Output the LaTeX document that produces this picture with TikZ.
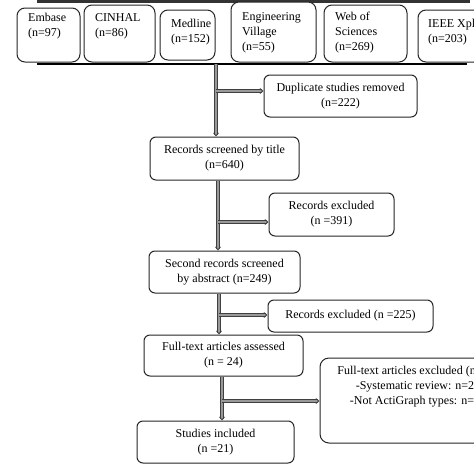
\documentclass[tikz,border=0pt]{standalone}
\usepackage{fontspec}
\setmainfont{Liberation Serif}
\usetikzlibrary{arrows.meta}
\newcommand\diafont{\fontsize{12}{15}\selectfont}
\begin{document}
\begin{tikzpicture}[x=1pt,y=-1pt,
  box/.style={draw=black!85, line width=1pt, rounded corners=6pt, fill=white, inner sep=0pt, align=center, font=\diafont},
  srcbox/.style={draw=black!85, line width=1pt, rounded corners=8pt, fill=white, inner sep=0pt},
  srctext/.style={anchor=north west, inner sep=0pt, align=left, font=\diafont},
  conn/.style={draw=black!75, line width=0.8pt, double=black!40, double distance=1.6pt},
  tip/.style={-{Straight Barb[length=3pt,width=5pt]}}]
\useasboundingbox (0,0) rectangle (474,474);
\clip (0,0) rectangle (474,474);
\fill[white] (0,0) rectangle (474,474);
% top bar
\fill[black!80] (37,-3) rectangle (470,3);
% source boxes
\node[srcbox, minimum width=63pt, minimum height=54pt] (s1) at (48.5,35) {};
\node[srcbox, minimum width=71pt, minimum height=57pt] (s2) at (119.5,33.5) {};
\node[srcbox, minimum width=55pt, minimum height=50pt] (s3) at (187.5,35) {};
\node[srcbox, minimum width=85pt, minimum height=60pt] (s4) at (273.5,32) {};
\node[srcbox, minimum width=83pt, minimum height=57pt] (s5) at (365.5,33.5) {};
\node[srcbox, minimum width=72pt, minimum height=52pt] (s6) at (454,36) {};
\node[srctext] (s1t) at (28,13) {Embase\\(n=97)};
\node[srctext] (s2t) at (95,13) {CINHAL\\(n=86)};
\node[srctext] (s3t) at (171,19) {Medline\\(n=152)};
\node[srctext] (s4t) at (242,12) {Engineering\\Village\\(n=55)};
\node[srctext] (s5t) at (335,12) {Web of\\Sciences\\(n=269)};
\node[srctext] (s6t) at (428,19) {IEEE Xplore\\(n=203)};
% horizontal line
\coordinate (hl) at (37,64);
\coordinate (hr) at (467,64);
\draw[black, line width=1.6pt] (hl) -- (hr);
% main boxes
\node[box, minimum width=153pt, minimum height=42pt] (dup) at (340.5,96) {Duplicate studies removed\\(n=222)};
\node[box, minimum width=149pt, minimum height=43pt] (r1) at (224.5,158.5) {Records screened by title\\(n=640)};
\node[box, minimum width=125pt, minimum height=43pt] (ex1) at (331.5,214.5) {Records excluded\\(n =391)};
\node[box, minimum width=151pt, minimum height=42pt] (r2) at (224.5,272) {Second records screened\\by abstract (n=249)};
\node[box, minimum width=165pt, minimum height=32pt] (ex2) at (350.5,316) {Records excluded (n =225)};
\node[box, minimum width=159pt, minimum height=41pt] (ft) at (223.5,355.5) {Full-text articles assessed\\(n = 24)};
\node[box, rounded corners=9pt, minimum width=190pt, minimum height=85pt] (ex3) at (415,400.5) {};
\node[anchor=north, inner sep=0pt, align=center, font=\diafont] (ex3t) at (415,366) {Full-text articles excluded (n=3)\\-Systematic review: n=2\\-Not ActiGraph types: n=1};
\node[box, minimum width=157pt, minimum height=42pt] (inc) at (215.5,442) {Studies included\\(n =21)};
% connectors
\coordinate (t0) at (216,64);
\draw[conn, tip] (t0) -- (t0 |- r1.north);
\coordinate (a1) at (216,91);
\draw[conn, tip] (a1) -- (a1 -| dup.west);
\coordinate (t1) at (218,0);
\draw[conn, tip] (t1 |- r1.south) -- (t1 |- r2.north);
\coordinate (a2) at (218,222);
\draw[conn, tip] (a2) -- (a2 -| ex1.west);
\coordinate (t2) at (219,0);
\draw[conn, tip] (t2 |- r2.south) -- (t2 |- ft.north);
\coordinate (a3) at (219,315);
\draw[conn, tip] (a3) -- (a3 -| ex2.west);
\coordinate (t3) at (222,0);
\draw[conn, tip] (t3 |- ft.south) -- (t3 |- inc.north);
\coordinate (a4) at (222,401);
\draw[conn, tip] (a4) -- (a4 -| ex3.west);
\end{tikzpicture}
\end{document}
